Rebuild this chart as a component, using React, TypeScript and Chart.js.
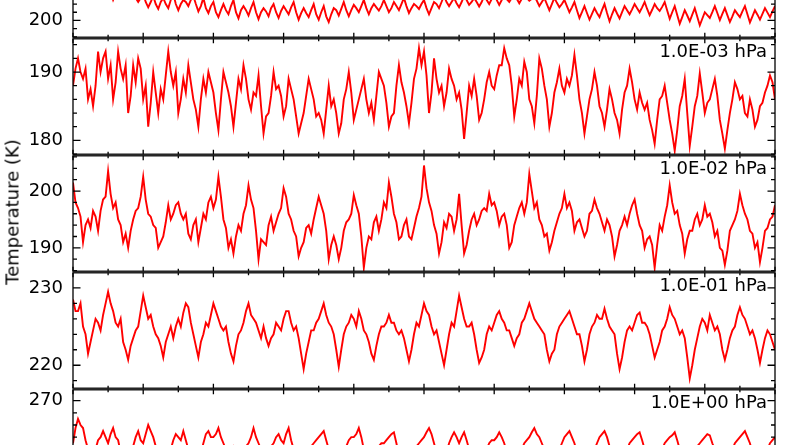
import React, { useEffect, useRef } from "react";
import { Chart, registerables } from "chart.js";

Chart.register(...registerables);

// Pressure level labels (top to bottom)
const levelLabels = ["1.0E-04 hPa", "1.0E-03 hPa", "1.0E-02 hPa", "1.0E-01 hPa", "1.0E+00 hPa"];

// Time axis: 10 major intervals, 14 samples per interval (plus half-step samples)
const xMajorTicks = [0, 1, 2, 3, 4, 5, 6, 7, 8, 9, 10];
const samplesPerUnit = 14;

// Temperature series (K): samples on the grid ...
const temp1em4 = [
  208, 206, 208.5, 206.5, 209, 207, 208, 206, 205, 207.5, 206, 208, 206.5, 204.5, 206.5, 203.2, 206, 202.8, 205.5, 203,
  206.5, 202.5, 205, 203.5, 206, 202.2, 205.5, 201.8, 204.5, 200.8, 204, 201.5, 205, 200.5, 203.5, 201.2, 204.5, 200.3, 203, 201,
  204, 200.6, 203.5, 201.5, 204.5, 200.2, 203, 200.8, 204, 200.2, 203.5, 199.6, 203, 201.2, 204.5, 201, 203.8, 202, 205, 201.5,
  204, 202.4, 205, 202, 204.5, 202.5, 205.5, 201.8, 204, 202.8, 205, 201.5, 204.5, 203, 206, 203.5, 205.5, 203.2, 206, 203.8,
  205.5, 203.4, 206, 204, 206.5, 203.8, 206, 204.5, 206.5, 204.2, 206.5, 204.8, 206, 203.5, 205.5, 202.5, 205.5, 203.2, 205, 202,
  204.5, 200.6, 203.5, 200.2, 203, 200.8, 204, 199.8, 203, 200.5, 203.5, 201.5, 204, 202, 204.5, 201.3, 204, 202.3, 204.5, 200.4,
  203.5, 199.2, 202.5, 199.8, 203, 198.8, 202, 200.6, 203.5, 200.1, 203, 199.6, 202.5, 200.8, 203.5, 199.5, 202.5, 200.2, 203, 200.8,
  203.5,
];
// ... and the samples half-way between them
const temp1em4Mid = [
  207, 207.5, 207, 208, 207.5, 208.5, 207, 207, 206.5, 206.5, 207, 207, 205.5, 205.5, 204.5, 204.5, 204, 204.5, 204, 205,
  204, 204, 204.5, 205, 204, 203.5, 203, 203.5, 202, 202.5, 202.5, 203.5, 202, 202.5, 202.5, 203, 202, 202, 202.2, 203,
  202, 202.3, 202.5, 203.2, 202, 201.8, 201.8, 202.5, 201.5, 202, 201, 201.5, 202.5, 202.8, 202.5, 202.5, 203, 203.5, 203, 203,
  203.2, 203.5, 203.5, 203, 203.5, 204, 203.5, 203, 203.5, 204, 203, 203, 204, 204.5, 204.5, 204.5, 204.2, 204.5, 205, 204.5,
  204.5, 204.5, 205, 205.2, 205, 205, 205.2, 205.5, 205.3, 205.3, 205.5, 205.3, 204.8, 204.5, 204, 204, 204.3, 204, 203.5, 203.2,
  202.5, 202, 201.8, 201.6, 201.8, 202.5, 201.8, 201.5, 201.7, 202, 202.5, 202.7, 203, 203.2, 202.8, 202.6, 203, 203.3, 202.4, 202,
  201.3, 200.8, 201.2, 201.4, 200.9, 200.4, 201.3, 202, 201.8, 201.6, 201.3, 201, 201.6, 202.2, 201.5, 201, 201.4, 201.6, 201.9, 202.2,
];

const temp1em3 = [
  188, 192, 189, 186, 185, 193, 192, 189, 186, 193, 189, 184, 191, 192, 186, 182, 190, 184, 186, 193,
  188, 184, 189, 191, 186, 182, 189, 190, 187, 181.5, 190, 187, 182, 189, 191, 186, 187, 189.5, 181, 184,
  190, 188, 183.5, 189, 186, 181, 184, 189, 186, 184, 181, 188, 186, 181, 186, 190, 183, 186, 189, 184,
  183, 190, 188, 182, 184, 191, 187, 182.5, 189, 193.5, 193, 184, 192, 187, 185, 190.5, 188, 187, 180.2, 188,
  189, 183, 186, 190, 187.5, 191, 193.5, 191, 183.5, 189, 191.5, 186, 182.5, 192, 188, 182, 187, 190.5, 187, 188,
  192.5, 186, 181, 186, 190, 185, 182, 187.5, 184, 181, 187, 190.5, 186, 187, 184.5, 183, 179.5, 186, 188, 183,
  178.5, 185, 189, 179.2, 185, 189.8, 184, 186, 189, 183, 178.8, 184, 188.5, 186, 184, 186, 182, 185, 187, 189.5,
  186,
];
const temp1em3Mid = [
  190.5, 190, 190.5, 187.5, 188, 190, 193, 191, 188.5, 190.5, 191, 186.5, 188.5, 190.5, 188, 185.5, 187, 187.5, 189.5, 190,
  190, 186, 187, 188.5, 184.5, 186, 187, 188.5, 184, 186, 188.5, 185, 185.5, 187.5, 189, 184.5, 186.5, 185, 183.5, 186.5,
  187.5, 186.5, 185, 187.5, 183.5, 182.5, 186.5, 187.5, 183.5, 183, 184.5, 185, 184, 182.5, 187.5, 187, 184.5, 187.5, 186, 185.5,
  186.5, 189, 185.5, 183.5, 188, 188.5, 185, 185.5, 190.5, 191, 189.5, 187, 189, 188, 187, 189, 186, 184.5, 184, 186.5,
  186.5, 184, 188.5, 188, 189.5, 191, 192, 188, 186, 188, 190, 185, 186.5, 190.5, 186, 184, 188.5, 188, 189, 189.5,
  189.5, 184, 183.5, 187.5, 188, 184, 184.5, 186, 183, 184.5, 188, 188.5, 184.5, 185.5, 185.5, 181.5, 183, 186.5, 185.5, 181,
  181.5, 186.5, 184, 182, 186.5, 187, 185.5, 187.5, 186.5, 181, 181.5, 186, 187.5, 186.5, 183.5, 184.5, 183, 185.5, 188, 188.5,
];

const temp1em2 = [
  201.5, 197, 191, 195, 196.5, 193, 198.5, 203.5, 197, 195, 191, 190, 195, 197, 202.5, 196, 194, 190, 192, 197.5,
  196, 198, 195, 192.5, 194, 191, 196, 198, 197, 202.5, 195, 190, 189, 194, 196, 201, 197, 188, 191, 194,
  193, 196, 200.5, 196, 193, 188.5, 191, 194, 195, 199, 196, 188, 192, 188, 193, 195, 199.3, 196, 186.5, 192,
  194.5, 193, 198, 201.5, 196, 191.5, 194, 192, 193.5, 197, 204.5, 198, 194, 189, 194.5, 196, 193, 199.5, 189, 193,
  196, 195, 197, 199.5, 198, 194, 196, 190, 194, 197, 196, 203, 197, 195, 192, 189.5, 193, 196, 199.5, 198,
  193, 195, 192, 196, 198.5, 196, 193, 194, 188.5, 193, 195.5, 196, 198.5, 194, 190, 192, 186.5, 194, 195.5, 201,
  196, 194, 189, 193, 195, 194, 197.5, 196, 192, 190, 187, 193, 195, 199.5, 196, 193, 190, 187.5, 193, 195,
  197.5,
];
const temp1em2Mid = [
  198, 195.5, 194, 193.5, 195.5, 196.5, 199, 199.5, 198, 194, 192.5, 193, 196.5, 199, 198.5, 195.5, 193.5, 191, 194.5, 195,
  197.5, 196, 196, 191.5, 195, 193.5, 195, 199, 198.5, 199, 193.5, 191.5, 192, 193, 197.5, 198.5, 193, 191.5, 190.5, 195.5,
  194.5, 197, 199, 195, 192, 190, 193.5, 192.5, 197, 197.5, 193, 190.5, 190.5, 190, 194.5, 196, 197.5, 192, 190, 191.5,
  195.5, 195, 197, 199, 194.5, 192, 195, 191.5, 195.5, 199, 200.5, 196.5, 192.5, 191, 193.5, 195.5, 195, 194, 190.5, 195,
  194, 196.5, 196.5, 197.5, 196.5, 195.5, 194, 191, 195.5, 198, 198, 200, 198, 194, 192.5, 191, 194.5, 197, 197, 196.5,
  194.5, 193.5, 193, 196.5, 197, 194.5, 195, 192, 190.5, 194, 194, 197.5, 196, 193, 191.5, 190.5, 190.5, 193, 197.5, 198,
  196.5, 192.5, 191.5, 193, 196, 195, 195.5, 194.5, 193, 189.5, 189.5, 194, 196.5, 197.5, 195, 192.5, 191, 190, 193.5, 195.5,
];

const temp1em1 = [
  228.5, 227, 225, 221.5, 224.5, 225.5, 226.5, 229.5, 227, 225, 223, 220.7, 223.5, 225, 229, 226, 225, 223.5, 221, 224,
  223.5, 226, 226.8, 227.5, 224, 221, 224, 225, 228, 226, 224.5, 223, 220.5, 224, 225.5, 228, 226, 224.5, 225, 222.5,
  224, 225, 226, 227, 224.5, 223.5, 219.5, 223, 224.5, 226, 228, 225.5, 224, 219.8, 224, 225.5, 226, 227, 224.5, 223,
  220.7, 224, 225, 226.5, 225.5, 224, 223.5, 220.5, 224, 225, 228, 226.5, 224, 223, 220, 224, 225, 229, 226, 225,
  224, 220.3, 222, 225, 225.5, 227, 225.5, 224.5, 222.5, 224, 226, 228, 226, 225, 224, 220.5, 222, 225, 226, 227,
  225, 224, 220.5, 224, 225.5, 226, 227.3, 225, 224, 219.5, 223, 225, 225.5, 226.8, 225.5, 224, 221, 223, 225, 227.5,
  226, 224, 223.5, 218.3, 222, 225, 225.5, 226.5, 224.5, 224, 220.7, 223.5, 225, 227.5, 226, 224, 223.5, 220.3, 223.5, 224,
  222,
];
const temp1em1Mid = [
  227, 228, 224, 223, 226, 224.5, 228, 228, 225.5, 226, 222, 222.5, 224.5, 227, 227.5, 226.5, 224, 222.5, 223, 225,
  225, 225, 228, 225.5, 222.5, 223, 225.5, 226.5, 227, 225, 225, 221.5, 222.5, 224.5, 227, 226.5, 225.5, 223.5, 223.5, 223.5,
  225.5, 224.5, 227, 225.5, 225, 221.5, 221.5, 224.5, 225.5, 227, 226.5, 225, 222, 222, 225, 226.5, 225, 226, 224, 221.5,
  222.5, 225, 225.5, 225.5, 224.5, 224.5, 222, 222, 225.5, 226.5, 227, 225, 224.5, 221.5, 222, 225.5, 227, 227.5, 225, 225.5,
  222, 221, 224, 224.5, 226.5, 226, 224.5, 223.5, 223.5, 225.5, 227, 227, 225.5, 224.5, 222, 221.5, 224, 225.5, 226.5, 226,
  224, 222.5, 222, 225, 226.5, 226, 226, 224.5, 221.5, 221, 224.5, 224.5, 226.5, 225.5, 225, 222.5, 222, 224.5, 226, 226.5,
  225, 224.5, 221, 220, 223.5, 226, 224.5, 225.5, 225, 222, 222, 224.5, 226.5, 226.5, 225, 224.5, 222, 222, 224.5, 223,
];

const temp1e0 = [
  263, 267, 265.5, 262, 260, 263.5, 265, 263, 265.5, 263.5, 260, 259, 262.5, 265, 263, 266, 264, 261, 259, 261,
  263.5, 264, 265, 262, 259.5, 260, 263, 265, 264, 265.5, 263, 261, 262.5, 261.5, 262, 263, 265.5, 263, 261, 262,
  263, 264.5, 263, 265.5, 262, 259.5, 260, 262, 263, 264, 265, 262, 259, 260, 262, 263.5, 264, 265.5, 262, 259.5,
  261, 262.5, 263, 264, 264.8, 261, 259, 260.5, 262, 263, 264, 265.5, 263, 260, 260.5, 263, 264.8, 263, 264.8, 262,
  259.5, 260, 261.5, 263, 263.5, 264.8, 263, 260, 259, 261, 263, 264, 265.5, 264, 262, 260, 259.5, 262, 264, 265,
  263, 260, 259, 260, 262, 264, 265, 262.5, 259.5, 259, 261, 263, 264, 264.8, 262, 259.5, 259, 261, 263, 264,
  264.8, 262, 259.5, 260, 261.5, 263, 264, 264.3, 262, 259.5, 259, 261, 263, 264, 265, 263, 260, 259.5, 261, 263,
  264,
];
const temp1e0Mid = [
  265.5, 266, 263.5, 260.5, 262, 264, 264, 264.5, 264, 261.5, 259.5, 260.5, 264, 263.5, 264.5, 265, 262.5, 260, 260, 262,
  264.5, 263.5, 263.5, 260.5, 259.5, 261.5, 264.5, 264, 264.5, 264, 262, 261.5, 262, 261.5, 262.5, 264, 264, 262, 261.5, 262.5,
  264, 263.5, 264.5, 263.5, 260.5, 260.5, 261, 262.5, 263.5, 264.5, 263.5, 260.5, 259.5, 261, 262.5, 264, 264.5, 264, 260.5, 260,
  261.5, 263, 263.5, 264.5, 263, 260, 259.5, 261.5, 262.5, 263.5, 264.8, 264.5, 261.5, 260, 261.5, 264, 264, 264, 263.5, 260.5,
  259.5, 261, 262, 263.5, 264, 264, 261.5, 259.5, 260, 262, 263.5, 264.8, 264.5, 263, 261, 259.5, 261, 263, 264.5, 264,
  261.5, 259.5, 259.5, 261, 263, 264.5, 264, 261, 259, 260, 262, 263.5, 264.5, 263.5, 260.5, 259, 260, 262, 263.5, 264.3,
  263.5, 260.5, 259.5, 260.5, 262.5, 263.5, 264.5, 263, 260.5, 259, 260, 262, 263.5, 264.5, 264, 261.5, 259.5, 260, 262, 263.5,
];

const seriesByLevel = [temp1em4, temp1em3, temp1em2, temp1em1, temp1e0];
const midSeriesByLevel = [temp1em4Mid, temp1em3Mid, temp1em2Mid, temp1em1Mid, temp1e0Mid];

// Axis ranges per panel (K)
const yMins = [195.9, 177.98, 185.89, 217.03, 252.82];
const yMaxs = [224.09, 194.86, 206.2, 231.95, 271.78];

const PANEL_H = 117;
const FIRST_TOP = -79;
const PAD_T = 20;
const PAD_B = 20;

function buildPoints(values: number[], mids: number[]) {
  const pts: { x: number; y: number }[] = [];
  values.forEach((v, i) => {
    pts.push({ x: i / samplesPerUnit, y: v });
    if (i < mids.length) pts.push({ x: (i + 0.5) / samplesPerUnit, y: mids[i] });
  });
  return pts;
}

function framePlugin(label: string) {
  return {
    id: "frame",
    afterDraw(chart: any) {
      const { ctx, chartArea, scales } = chart;
      const { left, right, top, bottom } = chartArea;
      const xs = scales.x;
      const ys = scales.y;
      ctx.save();
      ctx.strokeStyle = "#000";
      ctx.lineWidth = 1.3;
      ctx.strokeRect(left, top, right - left, bottom - top);
      ctx.beginPath();
      const start = Math.ceil(ys.min / 2) * 2;
      for (let v = start; v <= ys.max + 1e-9; v += 2) {
        const py = ys.getPixelForValue(v);
        const len = v % 10 === 0 ? 7.5 : 4;
        ctx.moveTo(left, py);
        ctx.lineTo(left + len, py);
        ctx.moveTo(right, py);
        ctx.lineTo(right - len, py);
      }
      for (let k = 0; k < xMajorTicks.length; k++) {
        const vals = [xMajorTicks[k]];
        if (k < xMajorTicks.length - 1) vals.push((xMajorTicks[k] + xMajorTicks[k + 1]) / 2);
        vals.forEach((v, j) => {
          const px = xs.getPixelForValue(v);
          const len = j === 0 ? 4.5 : 2.5;
          ctx.moveTo(px, top);
          ctx.lineTo(px, top + len);
          ctx.moveTo(px, bottom);
          ctx.lineTo(px, bottom - len);
        });
      }
      ctx.stroke();
      ctx.font = '18px "DejaVu Sans"';
      ctx.fillStyle = "#000";
      ctx.textAlign = "right";
      ctx.textBaseline = "alphabetic";
      ctx.fillText(label, right - 8, top + 18);
      ctx.restore();
    },
  };
}

function Panel({ index }: { index: number }) {
  const ref = useRef<HTMLCanvasElement>(null);
  useEffect(() => {
    const chart = new Chart(ref.current as HTMLCanvasElement, {
      type: "line",
      data: {
        datasets: [
          {
            data: buildPoints(seriesByLevel[index], midSeriesByLevel[index]),
            borderColor: "#ff0000",
            borderWidth: 1.9,
            pointRadius: 0,
            tension: 0,
            fill: false,
          },
        ],
      },
      options: {
        animation: false,
        responsive: false,
        maintainAspectRatio: false,
        events: [],
        layout: { padding: { top: PAD_T, bottom: PAD_B, left: 0, right: 25 } },
        plugins: { legend: { display: false }, tooltip: { enabled: false } },
        scales: {
          x: {
            type: "linear",
            min: xMajorTicks[0],
            max: xMajorTicks[xMajorTicks.length - 1],
            display: false,
          },
          y: {
            type: "linear",
            min: yMins[index],
            max: yMaxs[index],
            afterFit: (s: any) => {
              s.width = 73;
            },
            grid: { display: false, drawTicks: false },
            border: { display: false },
            ticks: {
              stepSize: 10,
              includeBounds: false,
              color: "#000",
              padding: 10,
              font: { family: "DejaVu Sans", size: 18 },
            },
          },
        },
      },
      plugins: [framePlugin(levelLabels[index])],
    } as any);
    return () => chart.destroy();
  }, [index]);
  const top = FIRST_TOP + index * PANEL_H - PAD_T;
  return (
    <canvas
      ref={ref}
      width={800}
      height={PANEL_H + PAD_T + PAD_B}
      style={{ position: "absolute", left: 0, top, width: 800, height: PANEL_H + PAD_T + PAD_B }}
    />
  );
}

export default function App() {
  return (
    <div
      style={{
        position: "fixed",
        left: 0,
        top: 0,
        width: 800,
        height: 445,
        overflow: "hidden",
        background: "#fff",
      }}
    >
      {seriesByLevel.map((_, i) => (
        <Panel key={i} index={i} />
      ))}
      <div
        style={{
          position: "absolute",
          left: 11.5,
          top: 212,
          transform: "translate(-50%, -50%) rotate(-90deg)",
          font: '18px "DejaVu Sans"',
          whiteSpace: "nowrap",
          color: "#000",
        }}
      >
        Temperature (K)
      </div>
    </div>
  );
}
